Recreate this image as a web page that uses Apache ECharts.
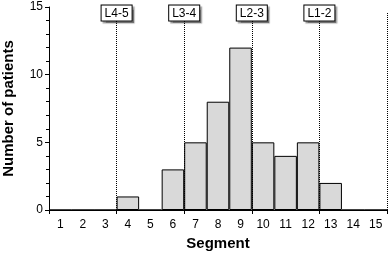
<!DOCTYPE html>
<html>
<head>
<meta charset="utf-8">
<script src="https://cdn.jsdelivr.net/npm/echarts@6/dist/echarts.min.js"></script>
<style>
  html, body { margin: 0; padding: 0; background: #fff; }
  #main { width: 388px; height: 253px; }
</style>
</head>
<body>
<div id="main"></div>
<script>
// segments on the x axis
var segments = ['1', '2', '3', '4', '5', '6', '7', '8', '9', '10', '11', '12', '13', '14', '15'];
// number of patients per segment
var patients = [0, 0, 0, 1, 0, 3, 5, 8, 12, 5, 4, 5, 2, 0, 0];
// vertebral level markers: boundary position (segment edge) and label
var levelPos = [3, 6, 9, 12];
var levelNames = ['L4-5', 'L3-4', 'L2-3', 'L1-2'];
var endPos = 15;

var font = 'Liberation Sans, Arial, Helvetica, sans-serif';

var markData = levelPos.map(function (p, i) {
  return [
    { coord: [p, 0], name: levelNames[i] },
    { coord: [p, 14] }
  ];
});
markData.push([
  { coord: [endPos, 0], name: '', label: { show: false } },
  { coord: [endPos, 14.6] }
]);

var myChart = echarts.init(document.getElementById('main'));
myChart.setOption({
  animation: false,
  grid: { left: 49, right: 1, top: 7, bottom: 43, containLabel: false, outerBoundsMode: 'none' },
  xAxis: [{
    type: 'category',
    data: segments,
    boundaryGap: true,
    name: 'Segment',
    nameLocation: 'middle',
    nameGap: 26,
    nameTextStyle: { fontFamily: font, fontSize: 15, fontWeight: 'bold', color: '#000' },
    axisLine: { lineStyle: { color: '#000', width: 1 } },
    axisTick: { show: false },
    axisLabel: { fontFamily: font, fontSize: 12, color: '#000', margin: 9 },
    splitLine: { show: false }
  }, {
    type: 'value',
    min: 0,
    max: 15,
    interval: 3,
    position: 'bottom',
    axisLine: { show: false },
    axisTick: { show: true, length: 4, lineStyle: { color: '#000' } },
    axisLabel: { show: false },
    splitLine: { show: false }
  }],
  yAxis: {
    type: 'value',
    min: 0,
    max: 15,
    interval: 5,
    name: 'Number of patients',
    nameLocation: 'middle',
    nameGap: 33,
    nameTextStyle: { fontFamily: font, fontSize: 15, fontWeight: 'bold', color: '#000' },
    axisLine: { show: true, lineStyle: { color: '#000', width: 1 } },
    axisTick: { show: true, length: 4, lineStyle: { color: '#000' } },
    minorTick: { show: true, splitNumber: 5, length: 3, lineStyle: { color: '#000' } },
    axisLabel: { fontFamily: font, fontSize: 12, color: '#000', margin: 6 },
    splitLine: { show: false }
  },
  series: [{
    type: 'bar',
    data: patients,
    barCategoryGap: '0%',
    itemStyle: { color: '#d9d9d9', borderColor: '#000', borderWidth: 1 },
    z: 2
  }, {
    type: 'scatter',
    xAxisIndex: 1,
    data: [[0, 0]],
    symbolSize: 0,
    silent: true,
    markLine: {
      silent: true,
      symbol: 'none',
      animation: false,
      lineStyle: { color: '#000', type: 'dotted', width: 1 },
      label: {
        show: true,
        position: 'end',
        distance: 0,
        formatter: '{b}',
        fontFamily: font,
        fontSize: 12,
        color: '#000',
        backgroundColor: '#fff',
        borderColor: '#000',
        borderWidth: 1,
        padding: [2, 3, 1, 3],
        shadowColor: 'rgba(0,0,0,0.35)',
        shadowOffsetX: 2,
        shadowOffsetY: 2,
        shadowBlur: 1
      },
      data: markData
    },
    z: 3
  }]
});
</script>
</body>
</html>
